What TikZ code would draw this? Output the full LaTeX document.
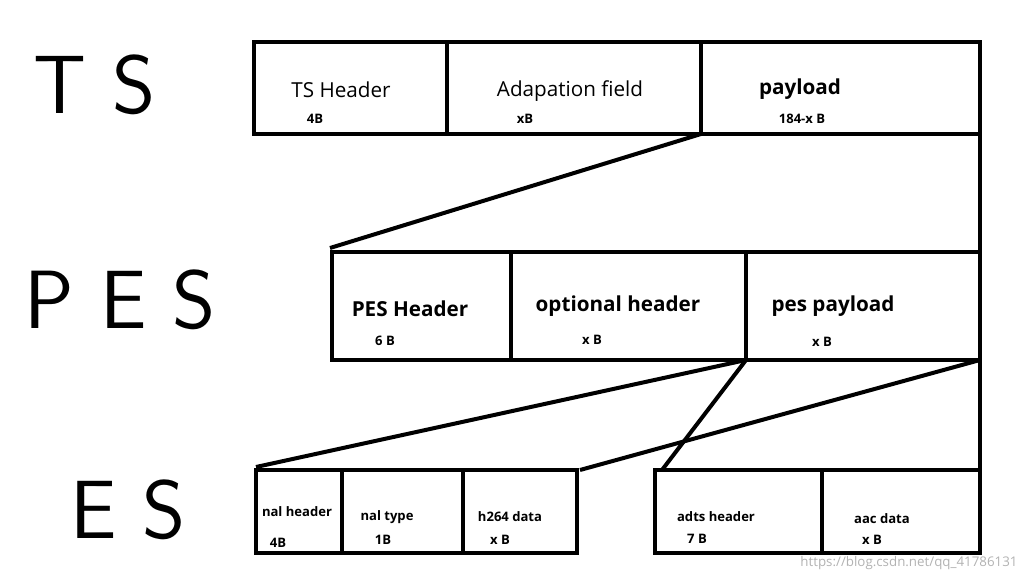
\documentclass[tikz,border=0pt]{standalone}
\usepackage{fontspec}
\setmainfont{Open Sans}
\begin{document}
\begin{tikzpicture}[x=0.75pt,y=-0.75pt,line width=3pt,line join=miter]
\tikzset{big/.style={font=\fontsize{62}{62}\selectfont\sffamily},
  lbl/.style={font=\fontsize{15.5}{18}\selectfont},
  blbl/.style={font=\fontsize{15.5}{18}\selectfont\bfseries},
  tiny/.style={font=\fontsize{9.8}{11}\selectfont\bfseries}}
\useasboundingbox (0,0) rectangle (1028,581);
% row labels
\node[big] (ts) at (95,85) {T S};
\node[big] (pes) at (120,300) {P E S};
\node[big] (es) at (128,510) {E S};
% TS row
\coordinate (tsA) at (254,42); \coordinate (tsB) at (980,134);
\draw (tsA) rectangle (tsB);
\draw (447,42) -- (447,134);
\draw (701,42) -- (701,134);
\coordinate (tsP) at (701,134);
\node[lbl] (tsh) at (341,90) {TS Header};
\node[tiny] (tshs) at (315,119) {4B};
\node[lbl] (af) at (570,91) {Adapation field};
\node[tiny] (afs) at (525,119) {xB};
\node[blbl] (pl) at (800,89) {payload};
\node[tiny] (pls) at (802,119) {184-x B};
% PES row
\coordinate (pesA) at (332,252); \coordinate (pesB) at (980,360);
\draw (pesA) rectangle (pesB);
\draw (511,252) -- (511,360);
\draw (746,252) -- (746,360);
\coordinate (pesL) at (330,248);
\coordinate (pesR) at (980,252);
\coordinate (pesP) at (746,360);
\coordinate (pesE) at (980,360);
\node[blbl] (ph) at (410,309) {PES Header};
\node[tiny] (phs) at (385,341) {6 B};
\node[blbl] (oh) at (618,306) {optional header};
\node[tiny] (ohs) at (592,340) {x B};
\node[blbl] (pp) at (833,306) {pes payload};
\node[tiny] (pps) at (822,342) {x B};
% ES row
\coordinate (esA) at (256,470); \coordinate (esB) at (577,553);
\coordinate (esC) at (655,470); \coordinate (esD) at (980,553);
\draw (esA) rectangle (esB);
\draw (342,470) -- (342,553);
\draw (463,470) -- (463,553);
\draw (esC) rectangle (esD);
\draw (822,470) -- (822,553);
\coordinate (esL) at (256,467);
\coordinate (esM) at (580,470);
\coordinate (esN) at (662,470);
\coordinate (esR) at (980,470);
\node[tiny] (nh) at (297,512) {nal header};
\node[tiny] (nhs) at (278,543) {4B};
\node[tiny] (nt) at (387,517) {nal type};
\node[tiny] (nts) at (383,540) {1B};
\node[tiny] (hd) at (510,517) {h264 data};
\node[tiny] (hds) at (500,540) {x B};
\node[tiny] (ah) at (716,517) {adts header};
\node[tiny] (ahs) at (697,539) {7 B};
\node[tiny] (ad) at (882,519) {aac data};
\node[tiny] (ads) at (872,540) {x B};
% connectors
\draw (tsP) -- (pesL);
\draw (980,134) -- (pesR);
\draw (pesP) -- (esL);
\draw (pesP) -- (esN);
\draw (pesE) -- (esM);
\draw (pesE) -- (esR);
\node[font=\fontsize{10}{12}\selectfont,text=gray!60,anchor=east] (wm) at (1024,563) {https://blog.csdn.net/qq\_41786131};
\end{tikzpicture}
\end{document}
